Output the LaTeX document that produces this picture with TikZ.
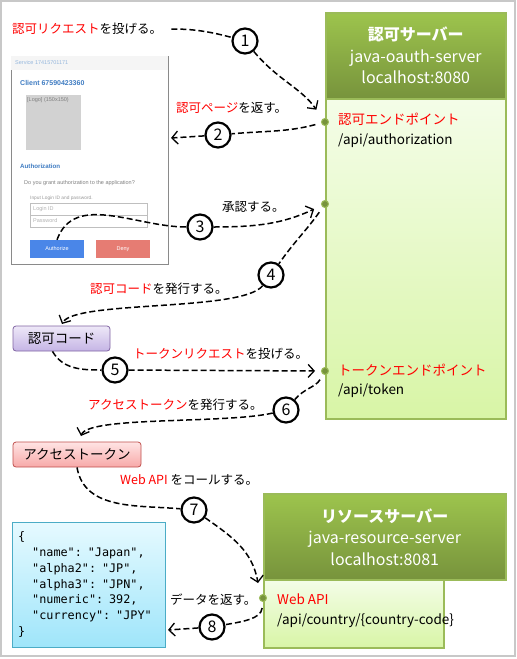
\documentclass[tikz,border=0pt]{standalone}
\usepackage{fontspec}
\setmainfont{Noto Sans CJK JP}
\newfontfamily\shotfont{Liberation Sans}
\newfontfamily\codefont{DejaVu Sans Mono}
\usepackage{tikz}
\usetikzlibrary{arrows.meta}
\usetikzlibrary{positioning}
\usepackage{xcolor}
\definecolor{srvtop}{HTML}{9DC44D}
\definecolor{srvbot}{HTML}{77933C}
\definecolor{srvline}{HTML}{9BBB59}
\definecolor{bodytop}{HTML}{F4FDE8}
\definecolor{bodybot}{HTML}{D8F5A6}
\definecolor{codetop}{HTML}{EEE8F8}
\definecolor{codebot}{HTML}{C5B5E5}
\definecolor{codeline}{HTML}{8064A2}
\definecolor{tokentop}{HTML}{FFE4E4}
\definecolor{tokenbot}{HTML}{F7A9A8}
\definecolor{tokenline}{HTML}{C0504D}
\definecolor{jsontop}{HTML}{E6FAFF}
\definecolor{jsonbot}{HTML}{9FE5FA}
\definecolor{jsonline}{HTML}{4BACC6}
\definecolor{shotblue}{HTML}{3F7CC2}
\definecolor{shotgray}{HTML}{8A8A8A}
\definecolor{btnblue}{HTML}{4A86E8}
\definecolor{btnred}{HTML}{E67C73}
\definecolor{framegray}{HTML}{C8C8C8}
\newcommand{\redtxt}[1]{\textcolor{red}{#1}}

\tikzset{
  srvhead/.style={draw=srvline, line width=1.5pt, top color=srvtop, bottom color=srvbot,
    text=white, align=center, anchor=north west, minimum width=180pt, minimum height=86pt,
    font=\fontsize{16}{21.5}\selectfont},
  srvbody/.style={draw=srvline, line width=1.5pt, top color=bodytop, bottom color=bodybot,
    anchor=north west, minimum width=180pt},
  port/.style={circle, draw=srvline, fill=srvbot, line width=1pt, minimum size=7pt, inner sep=0pt},
  eptext/.style={anchor=west, align=left, inner sep=0pt, font=\fontsize{13.5}{19.5}\selectfont},
  msg/.style={anchor=west, inner sep=0pt, font=\fontsize{12.5}{14}\selectfont},
  stepnum/.style={circle, draw, line width=2.2pt, fill=white, inner sep=0pt, minimum size=25pt,
    font=\fontsize{16}{16}\selectfont},
  artifact/.style={draw, rounded corners=3pt, line width=0.8pt, minimum height=25pt,
    font=\fontsize{13.5}{14}\selectfont},
  shottext/.style={anchor=west, inner sep=0pt, font=\shotfont\fontsize{5.5}{6}\selectfont},
  btn/.style={minimum width=54pt, minimum height=18pt, inner sep=0pt, text=white,
    font=\shotfont\fontsize{5.5}{6}\selectfont},
  flow/.style={line width=1.5pt, dash pattern=on 6pt off 3pt},
  flowto/.style={flow, -{Straight Barb[length=6pt,width=13pt,line width=1.3pt]}},
}

\begin{document}
\begin{tikzpicture}[x=1pt,y=1pt]
\useasboundingbox (0,0) rectangle (517,-659);
\draw[framegray, line width=1.2pt] (1,-1) rectangle (515,-656);

% authorization server
\node[srvbody, minimum height=320pt] (authbody) at (325,-98) {};
\node[srvhead] (authhead) at (325,-12) {{\bfseries 認可サーバー}\\java-oauth-server\\localhost:8080};
\node[port] (authep) at (325,-122) {};
\node[port] (approvep) at (325,-204) {};
\node[port] (tokenep) at (325,-371) {};
\node[eptext] (authtxt) at (338,-130.5) {\redtxt{認可エンドポイント}\\/api/authorization};
\node[eptext] (tokentxt) at (338,-381) {\redtxt{トークンエンドポイント}\\/api/token};

% resource server
\node[srvbody, minimum height=68pt] (resbody) at (263,-579) {};
\node[srvhead, minimum width=242pt] (reshead) at (263,-493) {{\bfseries リソースサーバー}\\java-resource-server\\localhost:8081};
\node[port] (resep) at (263,-598) {};
\node[eptext] (restxt) at (277,-610.5) {\redtxt{Web API}\\/api/country/\{country-code\}};

% authorization page
\draw[shotgray, line width=0.8pt, fill=white] (11,-56) rectangle (168,-264);
\fill[gray!8] (11.4,-56.4) rectangle (167.6,-70);
\node[shottext, text=shotblue!55] (svc) at (15,-63) {Service 17415701171};
\node[shottext, text=shotblue, font=\shotfont\bfseries\fontsize{7}{8}\selectfont] (client) at (20,-83) {Client 67590423360};
\fill[gray!35] (26,-95) rectangle (81,-150);
\node[shottext, text=gray, anchor=north west] (logo) at (27,-97) {[Logo] (150x150)};
\node[shottext, text=shotblue, font=\shotfont\bfseries\fontsize{6.2}{7}\selectfont] (authz) at (20,-166) {Authorization};
\node[shottext, text=gray] (grant) at (24,-183) {Do you grant authorization to the application?};
\node[shottext, text=gray!80, font=\shotfont\fontsize{4.8}{5}\selectfont] (input) at (30,-198) {Input Login ID and password.};
\draw[gray!50, line width=0.6pt] (30,-203) rectangle (147,-215);
\draw[gray!50, line width=0.6pt] (30,-215) rectangle (147,-227);
\node[shottext, text=gray!60] (loginid) at (33,-209) {Login ID};
\node[shottext, text=gray!60] (passwd) at (33,-221) {Password};
\node[btn, fill=btnblue] (authorize) at (57,-249) {Authorize};
\node[btn, fill=btnred] (deny) at (123,-249) {Deny};

% artifacts
\node[artifact, draw=codeline, top color=codetop, bottom color=codebot, minimum width=97pt] (code) at (61.5,-338.5) {認可コード};
\node[artifact, draw=tokenline, top color=tokentop, bottom color=tokenbot, minimum width=128pt] (token) at (77,-454.5) {アクセストークン};
\node[draw=jsonline, line width=0.8pt, top color=jsontop, bottom color=jsonbot, minimum width=153pt,
  minimum height=125pt, text width=141pt, inner xsep=6pt, align=left,
  font=\codefont\fontsize{11.8}{15.8}\selectfont] (json) at (88.5,-584.5)
  {\{\\\phantom{xx}"name": "Japan",\\\phantom{xx}"alpha2": "JP",\\\phantom{xx}"alpha3": "JPN",\\\phantom{xx}"numeric": 392,\\\phantom{xx}"currency": "JPY"\\\}};

% messages
\node[msg] (reqmsg) at (12,-29) {\redtxt{認可リクエスト}を投げる。};
\node[msg] (pagemsg) at (176,-108) {\redtxt{認可ページ}を返す。};
\node[msg] (okmsg) at (222,-207) {承認する。};
\node[msg] (codemsg) at (90,-289) {\redtxt{認可コード}を発行する。};
\node[msg] (tokreqmsg) at (133,-354) {\redtxt{トークンリクエスト}を投げる。};
\node[msg] (tokmsg) at (88,-405) {\redtxt{アクセストークン}を発行する。};
\node[msg] (apimsg) at (120,-480) {\redtxt{Web API} をコールする。};
\node[msg] (datamsg) at (170,-600) {データを返す。};

% steps
\node[stepnum] (s1) at (245,-41) {1};
\node[stepnum] (s2) at (218,-135) {2};
\node[stepnum] (s3) at (200,-227) {3};
\node[stepnum] (s4) at (271,-275) {4};
\node[stepnum] (s5) at (115,-370) {5};
\node[stepnum] (s6) at (286,-410) {6};
\node[stepnum] (s7) at (194,-510) {7};
\node[stepnum] (s8) at (212,-627) {8};

\coordinate (pagetip) at (171,-138);
\coordinate (codetip) at (62,-324);
\coordinate (tokentip) at (81,-436);
\coordinate (restip) at (258,-583);
\coordinate (jsontip) at (168,-630);

% flows
\draw[flow, shorten <=9pt] (reqmsg.east) to[out=0,in=165] (s1);
\draw[flowto, shorten >=11pt] (s1) to[out=-50,in=125] (authep);
\draw[flow, shorten <=6pt] (authep) to[out=195,in=5] (s2);
\draw[flowto] (s2) -- (pagetip);
\draw[flow] (authorize.north) to[out=70,in=180] (s3);
\draw[flowto, shorten >=8pt] (s3) to[out=0,in=205] (approvep);
\draw[flow, shorten <=6pt] (approvep) to[out=235,in=55] (s4);
\draw[flowto] (s4) .. controls (242,-312) and (74,-300) .. (codetip);
\draw[flow] ([xshift=-9pt]code.south) to[out=-60,in=180] (s5);
\draw[flowto, shorten >=6pt] (s5) -- (tokenep);
\draw[flow, shorten <=6pt] (tokenep) to[out=240,in=50] (s6);
\draw[flowto] (s6) .. controls (225,-424) and (88,-416) .. (tokentip);
\draw[flow] (token.south) to[out=-80,in=175] (s7);
\draw[flowto] (s7) to[out=-35,in=100] (restip);
\draw[flow, shorten <=6pt] (resep) to[out=-95,in=10] (s8);
\draw[flowto] (s8) -- (jsontip);
\end{tikzpicture}
\end{document}
